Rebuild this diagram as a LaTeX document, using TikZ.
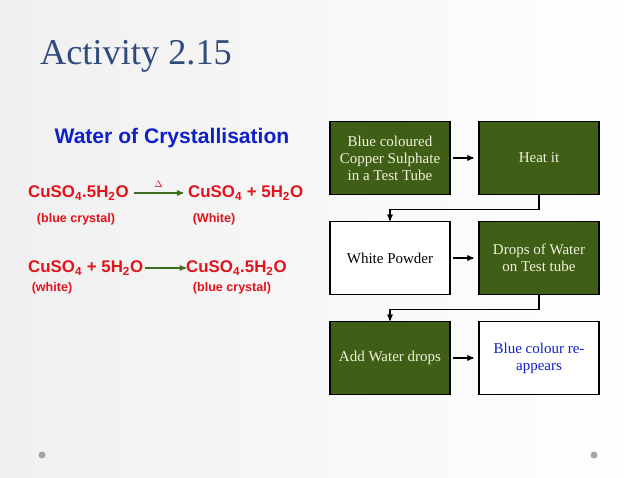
\documentclass[tikz,border=0pt]{standalone}
\usepackage{fontspec}
\setmainfont{Liberation Serif}
\setsansfont{Liberation Sans}
\usetikzlibrary{positioning}
\usetikzlibrary{arrows}
\definecolor{boxgreen}{HTML}{3F5F17}
\definecolor{cream}{HTML}{F2F0DC}
\definecolor{chemred}{HTML}{E3131B}
\definecolor{titleblue}{HTML}{2F4B7C}
\definecolor{headblue}{HTML}{1020C8}
\definecolor{arrgreen}{HTML}{3B6B1E}
\begin{document}
\begin{tikzpicture}[x=0.03cm, y=-0.03cm, >=stealth',
	                    greenbox/.style = {draw=black, line width=1.2pt, fill=boxgreen, text=cream,
	                                       minimum width=3.6cm, minimum height=2.19cm, align=center,
	                                       font=\fontsize{12.8}{14.5}\selectfont},
	                    whitebox/.style = {greenbox, fill=white, text=black},
	                    flow/.style     = {->, line width=1pt},
	                    chem/.style     = {text=chemred, font=\sffamily\bfseries\fontsize{14.4}{16}\selectfont, inner sep=0pt},
	                    note/.style     = {text=chemred, font=\sffamily\bfseries\fontsize{10.7}{12}\selectfont, inner sep=0pt}]
	\useasboundingbox (0,0) rectangle (638,478);
	\shade[left color=gray!12, right color=white] (0,0) rectangle (638,478);
	\fill[gray!70] (42,455) circle (3.5) (594,455) circle (3.5);
	% Title and heading
	\node[anchor=west, text=titleblue, font=\fontsize{31}{34}\selectfont] (title) at (36,56) {Activity 2.15};
	\node[text=headblue, font=\sffamily\bfseries\fontsize{18}{20}\selectfont] (head) at (172,138) {Water of Crystallisation};
	% Equations
	\node[chem, anchor=west] (r1) at (28,193) {CuSO\textsubscript{4}.5H\textsubscript{2}O};
	\node[chem, anchor=west] (p1) at (188,193) {CuSO\textsubscript{4} + 5H\textsubscript{2}O};
	\draw[->, arrgreen, line width=1pt, shorten <=4pt, shorten >=4pt] (r1.east) -- (p1.west)
		node[midway, above=1pt, text=chemred, font=\sffamily\footnotesize] {$\Delta$};
	\node[note] (n1) at (76,219) {(blue crystal)};
	\node[note] (n2) at (214,219) {(White)};
	\node[chem, anchor=west] (r2) at (28,268) {CuSO\textsubscript{4} + 5H\textsubscript{2}O};
	\node[chem, anchor=west] (p2) at (186,268) {CuSO\textsubscript{4}.5H\textsubscript{2}O};
	\draw[->, arrgreen, line width=1pt, shorten <=1pt] (r2.east) -- (p2.west);
	\node[note] (n3) at (52,288) {(white)};
	\node[note] (n4) at (232,288) {(blue crystal)};
	% Flow boxes
	\node[greenbox] (blue)  at (390,158) {Blue coloured\\Copper Sulphate\\in a Test Tube};
	\node[greenbox] (heat)  at (539,158) {Heat it};
	\node[whitebox] (white) at (390,258) {White Powder};
	\node[greenbox] (drops) at (539,258) {Drops of Water\\on Test tube};
	\node[greenbox] (add)   at (390,358) {Add Water drops};
	\node[whitebox, text=headblue] (again) at (539,358) {Blue colour re-\\appears};
	\draw[flow, shorten <=2pt, shorten >=4pt] (blue) -- (heat);
	\draw[flow, shorten <=2pt, shorten >=4pt] (white) -- (drops);
	\draw[flow, shorten <=2pt, shorten >=4pt] (add) -- (again);
	\draw[flow] (heat.south) -- ++(0,14) -| (white.north);
	\draw[flow] (drops.south) -- ++(0,14) -| (add.north);
\end{tikzpicture}
\end{document}
